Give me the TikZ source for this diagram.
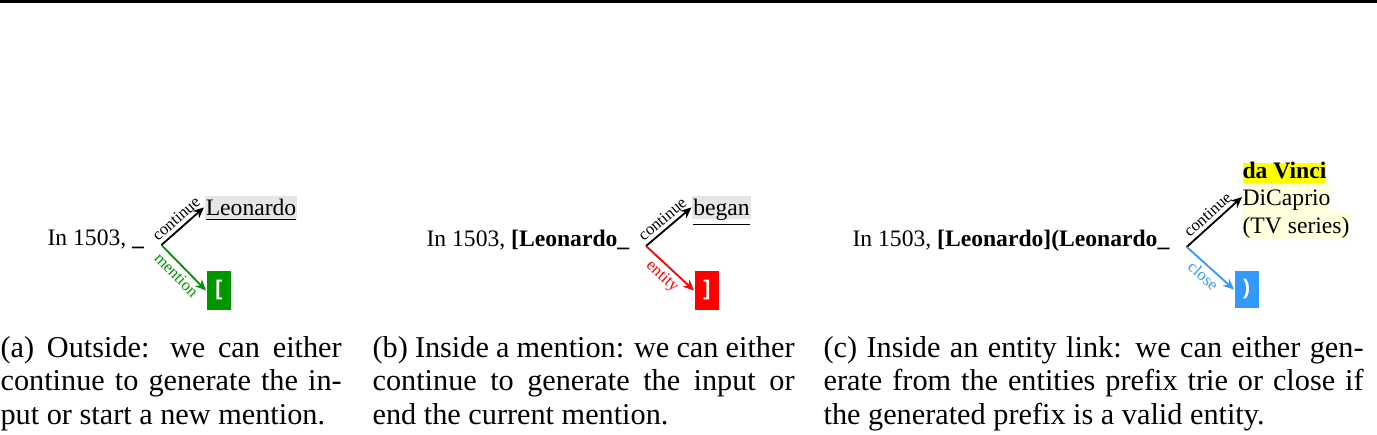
\documentclass[tikz,border=0pt]{standalone}
\usepackage{fontspec}
\setmainfont{Liberation Serif}
\setsansfont{Liberation Sans}
\usetikzlibrary{arrows.meta,positioning}
\definecolor{vertmention}{RGB}{0,150,0}
\definecolor{rougeentite}{RGB}{255,0,0}
\definecolor{bleuferme}{RGB}{51,153,255}
\definecolor{fondgris}{RGB}{230,230,230}
\definecolor{fondjaune}{RGB}{255,255,0}
\definecolor{fondclair}{RGB}{255,255,222}
\newcommand{\fsdiag}{\fontsize{7.8}{9.1}\selectfont}
\newcommand{\fsetiq}{\fontsize{5.5}{6.5}\selectfont}
\newcommand{\fslegende}{\fontsize{10}{11.2}\selectfont}

\begin{document}
\begin{tikzpicture}[x=0.3304pt,y=0.3304pt]
    % Styles
    \tikzset{fleche/.style={line width=0.6pt, -{Stealth[length=3.6pt,width=3.2pt]}}}%
    \tikzset{phrase/.style={anchor=base west, inner sep=0pt, font=\fsdiag}}%
    \tikzset{suite/.style={anchor=base west, inner xsep=0.4pt, inner ysep=0pt, text height=6.3pt, text depth=1.3pt, fill=fondgris, font=\fsdiag}}%
    \tikzset{jeton/.style={anchor=west, inner sep=0pt, minimum width=8.2pt, minimum height=12.9pt, text=white, fill=#1, font=\sffamily\bfseries\fontsize{7}{8}\selectfont}}%
    \tikzset{etiquette/.style={midway, sloped, inner sep=1.2pt, font=\fsetiq}}%
    \tikzset{entite/.style={anchor=base west, inner sep=0pt, fill=#1, font=\fsdiag}}%
    \tikzset{legende/.style={anchor=base west, inner sep=0pt, text width=#1, align=justify, font=\fslegende}}%

    % Cadre
    \useasboundingbox (0,0) rectangle (1377,434);%
    \draw[line width=0.8pt] (0,432.5) -- (1377,432.5);%

    % (a) Outside
    \node[phrase] (txtA) at (47,189) {In 1503, \textbf{\_}};%
    \coordinate (oA) at ([xshift=5.5pt]txtA.base east);%
    \node[suite] (contA) at (204,219) {\underline{Leonardo}};%
    \node[jeton=vertmention] (boxA) at (206,143.5) {[};%
    \draw[fleche] (oA) -- (contA.west) node[etiquette, above] {continue};%
    \draw[fleche, vertmention] (oA) -- (boxA.west) node[etiquette, below] {mention};%

    % (b) Inside a mention
    \node[phrase] (txtB) at (426,188) {In 1503, \textbf{[Leonardo\_}};%
    \coordinate (oB) at ([xshift=5.3pt]txtB.base east);%
    \node[suite] (contB) at (691.5,219) {\underline{began}};%
    \node[jeton=rougeentite] (boxB) at (694,143.5) {]};%
    \draw[fleche] (oB) -- (contB.west) node[etiquette, above] {continue};%
    \draw[fleche, rougeentite] (oB) -- (boxB.west) node[etiquette, below] {entity};%

    % (c) Inside an entity link
    \node[phrase] (txtC) at (852,188) {In 1503, \textbf{[Leonardo](Leonardo\_}};%
    \coordinate (oC) at ([xshift=5.5pt,yshift=-0.3pt]txtC.base east);%
    \node[entite=fondjaune, text height=5pt, text depth=1.65pt] (ent1) at (1242,256) {\textbf{da Vinci}};%
    \node[entite=fondclair, text height=7.3pt, text depth=2pt] (ent2) at (1242,229) {DiCaprio};%
    \node[entite=fondclair, text height=7.3pt, text depth=2.3pt] (ent3) at (1242,201) {(TV series)};%
    \node[jeton=bleuferme, minimum width=7.9pt, minimum height=12.5pt] (boxC) at (1234,144.5) {)};%
    \draw[fleche] (oC) -- (ent2.west) node[etiquette, above] {continue};%
    \draw[fleche, bleuferme] (oC) -- (boxC.west) node[etiquette, below] {close};%

    % Legendes
    \node[legende=112.7pt] (capA) at (0,77) {(a) Outside: we can either\linebreak continue to generate the in-\linebreak put or start a new mention.};%
    \node[legende=139.4pt] (capB) at (372,77) {(b) Inside a mention: we can either\linebreak continue to generate the input or\linebreak end the current mention.};%
    \node[legende=178.4pt] (capC) at (823,77) {(c) Inside an entity link: we can either gen-\linebreak erate from the entities prefix trie or close if\linebreak the generated prefix is a valid entity.};%
\end{tikzpicture}
\end{document}
